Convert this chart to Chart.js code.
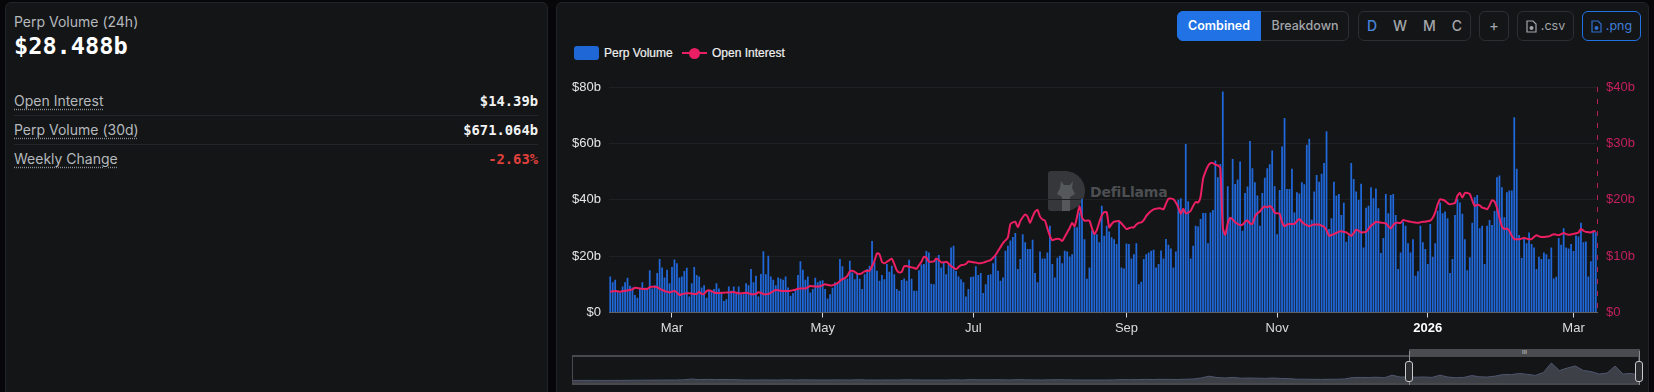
<!DOCTYPE html>
<html>
<head>
<meta charset="utf-8">
<title>Perp Volume</title>
<script src="https://cdn.jsdelivr.net/npm/chart.js@4/dist/chart.umd.min.js"></script>
<style>
html, body { margin: 0; padding: 0; width: 1654px; height: 392px; overflow: hidden; background: #070709; font-family: Inter, "Liberation Sans", sans-serif; }
.card { position: absolute; background: #131517; border: 1px solid #212326; border-radius: 6px; box-sizing: border-box; }
#left { left: 5px; top: 2px; width: 543px; height: 400px; }
#right { left: 556px; top: 2px; width: 1093px; height: 400px; }
.abs { position: absolute; white-space: nowrap; }
.mono { font-family: "DejaVu Sans Mono", "Liberation Mono", monospace; font-weight: 700; }
.stat-label { left: 14px; font-size: 14px; color: #b6b9bd; text-decoration: underline dotted #8a8d91; text-underline-offset: 3px; line-height: 18px; }
.stat-value { font-size: 13.8px; color: #f2f2f2; line-height: 18px; }
.divider { position: absolute; left: 14px; width: 524px; height: 1px; background: #232528; }
.btn { position: absolute; top: 11px; height: 30px; box-sizing: border-box; border: 1px solid #2c2e32; border-radius: 6px; font-size: 12.5px; line-height: 28px; color: #a3a6aa; display: flex; align-items: center; justify-content: center; gap: 4px; }
.legend { position: absolute; top: 46px; font: 12px "Liberation Sans", sans-serif; color: #f0f0f0; line-height: 14px; -webkit-text-stroke: 0.2px #f0f0f0; }
canvas { position: absolute; display: block; }
#brushFrame { position: absolute; left: 572px; top: 355px; width: 1067px; height: 30px; border: 2px solid #47494c; border-left-width: 1px; border-right-width: 1px; box-sizing: border-box; }
.handle { position: absolute; top: 361px; width: 6px; height: 19px; border: 1.5px solid #c8c9cb; border-radius: 3px; background: #2a2c2f; }
.handle-line { position: absolute; top: 351px; width: 1px; height: 34px; background: #8a8c90; }
</style>
</head>
<body>

<div class="card" id="left"></div>
<div class="card" id="right"></div>

<div class="abs" style="left:14px;top:13px;font-size:14px;color:#b6b9bd;line-height:18px">Perp Volume (24h)</div>
<div class="abs mono" style="left:14px;top:31px;font-size:23.6px;color:#fff;line-height:30px">$28.488b</div>

<div class="abs stat-label" style="top:92px">Open Interest</div>
<div class="abs stat-value mono" style="top:92px;right:1116px">$14.39b</div>
<div class="divider" style="top:115px"></div>
<div class="abs stat-label" style="top:121px">Perp Volume (30d)</div>
<div class="abs stat-value mono" style="top:121px;right:1116px">$671.064b</div>
<div class="divider" style="top:144px"></div>
<div class="abs stat-label" style="top:150px">Weekly Change</div>
<div class="abs stat-value mono" style="top:150px;right:1116px;color:#e0403c">-2.63%</div>

<!-- boutons -->
<div class="btn" style="left:1177px;width:172px"></div>
<div class="btn" style="left:1177px;width:84px;background:#2172e5;border-color:#2172e5;color:#fff;font-weight:600;border-radius:6px 0 0 6px">Combined</div>
<div class="btn" style="left:1261px;width:88px;border:none;font-weight:500">Breakdown</div>
<div class="btn" style="left:1358px;width:113px;justify-content:space-around;padding:0 2px;font-size:14px;font-weight:500"><span style="color:#4a84d8">D</span><span>W</span><span>M</span><span>C</span></div>
<div class="btn" style="left:1479px;width:30px;font-size:15px">+</div>
<div class="btn" style="left:1517px;width:57px"><svg width="11" height="13" viewBox="0 0 11 13"><path d="M1 1h6l3 3v8H1z" fill="none" stroke="#a3a6aa" stroke-width="1.2"/><circle cx="5.5" cy="8" r="2" fill="#a3a6aa"/></svg>.csv</div>
<div class="btn" style="left:1582px;width:59px;border-color:#2172e5;color:#3f7fd8"><svg width="11" height="13" viewBox="0 0 11 13"><path d="M1 1h6l3 3v8H1z" fill="none" stroke="#2f6fcf" stroke-width="1.2"/><circle cx="5.5" cy="8" r="2" fill="#2f6fcf"/></svg>.png</div>

<!-- légende -->
<div class="abs" style="left:574px;top:46px;width:25px;height:14px;background:#1f66d6;border-radius:3px"></div>
<div class="legend" id="legendBar" style="left:604px"></div>
<div class="abs" style="left:682px;top:52px;width:25px;height:2px;background:#e91e63"></div>
<div class="abs" style="left:689px;top:48px;width:11px;height:11px;border-radius:50%;background:#e91e63"></div>
<div class="legend" id="legendLine" style="left:712px"></div>

<!-- filigrane -->
<svg class="abs" style="left:1048px;top:171px" width="37" height="41" viewBox="0 0 37 41">
  <path d="M3 0h14c11 0 20 9 20 20s-9 20-20 20H3c-2 0-3-1-3-3V3c0-2 1-3 3-3z" fill="#35373a"/>
  <path d="M13 10l3 4h6l3-4-1 7 3 6-5 3v14H14V26l-5-3 3-6z" fill="#55585b"/>
</svg>
<div class="abs" style="left:1090px;top:182px;font:700 14px 'DejaVu Sans',sans-serif;color:#4c4e51;line-height:20px;letter-spacing:-0.2px">DefiLlama</div>

<canvas id="mainChart" width="1093" height="270" style="left:556px;top:70px"></canvas>

<canvas id="brushChart" width="1067" height="29" style="left:572px;top:356px"></canvas>
<div id="brushFrame"></div>
<div class="abs" style="left:1409px;top:349px;width:231px;height:7px;background:#4a4c4f;color:#cfcfcf;font:6px/7px 'Liberation Sans',sans-serif;text-align:center">III</div>
<div class="handle-line" style="left:1409px"></div>
<div class="handle-line" style="left:1639px"></div>
<div class="handle" style="left:1405px"></div>
<div class="handle" style="left:1635px"></div>

<script>
// ============================
// Dados
// ============================
const START_DATE = "2025-02-04";
const barName = "Perp Volume";
const lineName = "Open Interest";

// volume diário em $b
const perpVolume = [
  12.8,10.7,11.6,7.7,7,9.2,10.7,12.3,9.5,8.9,
  6.2,5.2,8.5,10.7,8.8,8.3,15,8.5,9.7,14,
  19,16,12.4,15.2,10.4,16.1,18.8,17.5,12.4,12.8,
  14.7,15.9,5.7,10.4,16.1,13.3,12.8,8.9,9.7,5.2,
  8,7.7,8.3,10.4,8.5,7.3,4.1,4.7,9.2,7.7,
  9.2,6.6,9.2,6.5,6.5,10.4,9.7,15.4,10.7,13,
  5.7,13.7,21.7,13.6,20.1,12.8,11.6,9.7,12.4,12,
  11.6,12.8,8.9,5.9,6.9,8.3,13.3,18.2,15.2,11.6,
  12.8,7.1,8.3,12.3,10.7,11.3,11.4,8.3,5,6.5,
  8.8,10.7,10.4,19,16.4,11.8,12,18.4,14.2,11.8,
  13.7,12,8.3,13.6,15.4,16.6,25.4,17.8,14.8,
  11.3,13.3,11.8,17.2,14.5,16.6,13.6,8.3,7.7,11.5,
  12.1,11.3,18.7,12,7.7,7.7,15,17,17.2,21.8,
  21.3,10.2,10,18.7,20.4,16,17.8,13.6,17,23.1,
  23.7,14.7,12.8,11.8,10.7,5.7,8.3,12.6,12.8,16.4,
  13.3,14,6.9,10,13.3,13.6,17.5,20.1,14.8,11.3,
  12.4,21.9,23.7,25.5,26.8,28.2,15.4,19,27.8,24.9,
  22.5,22.5,25.8,14,10.7,21.6,19.2,19.2,21.3,30.8,
  17.2,12.4,19.4,20.1,17.5,21.9,21.6,19.9,20.7,30.2,
  30.2,35.5,40.3,26,12,16,29,28.4,27.8,24.9,
  37.9,27.2,30.8,28.7,26.7,26,24.3,32.6,16,15.6,
  24.5,24.3,19.2,20.7,24.6,10,10.9,19,20.7,21.3,
  21.9,22.3,16,17.2,
  22,19.2,26.1,24,22.7,16,21.6,40,40.5,36,
  59.8,39.5,19.2,23.7,30.8,30.5,33.2,35.3,35.3,24.6,
  35.5,36.4,53.9,48,52.7,78.4,28.4,44.8,33.8,54.5,
  45.6,47.2,53.6,29,42.4,44.7,60.8,51.2,46.2,41.5,
  30.8,42.4,47.8,51.2,52.6,57.5,44.8,27.8,43.5,58.9,
  69,43.8,43.8,51,35.5,42.7,42.2,46.2,45.5,59.5,
  61.6,32.9,42.9,48.8,46.4,49.2,53,64.3,29.6,33.4,
  46.4,41.5,42,34.6,38.9,25.1,27.3,53,47.4,42.9,
  40,45.7,23.1,37.2,37.9,44.4,40.5,44,37,21.1,
  26.4,42,35.2,41.7,42,34.6,15.4,
  21.3,32.2,30.8,24.6,21.3,26,13,14.6,30.8,24.9,
  22.5,17.2,31.4,19.8,24.6,36.1,39,35.2,35.8,33.4,
  14,19,34.6,40.3,39,35,26,15,19.6,31.8,
  40.9,41.7,29.9,30.8,17.2,30.8,32.8,31,36,48,
  48.6,44.4,33.8,42.7,43.3,43.3,69.3,51,27.5,19.3,
  26.1,24.6,28.4,24.3,23.1,15.4,19.8,19,21.3,20.7,
  19,23.1,12.1,12.7,26.4,24,29.9,23.1,22.7,24.3,
  21.8,27.3,27,31.8,24.9,25.2,12.8,18.2,29,28.488
];

// open interest em $b (eixo direito)
const openInterest = [
  3.7,3.75,3.8,3.75,3.7,3.75,3.85,3.9,4.0,4.1,
  4.4,4.35,4.25,4.2,4.15,4.2,4.5,4.55,4.55,4.5,
  4.2,4.0,3.8,3.7,3.55,3.7,3.8,3.55,3.1,3.25,
  3.35,3.4,3.4,3.35,3.3,3.3,3.7,3.3,3.3,3.8,
  3.95,3.8,3.55,3.45,3.45,3.5,3.5,3.55,3.55,3.6,
  3.65,3.5,3.4,3.4,3.45,3.5,3.4,3.25,3.25,3.3,
  3.6,3.5,3.25,3.25,3.3,3.5,3.75,4.0,3.95,3.85,
  3.8,3.8,3.8,3.85,3.95,4.05,4.2,4.25,4.25,4.25,
  4.5,4.7,4.65,4.6,4.6,4.65,4.85,5.0,4.9,4.8,
  4.85,5.0,5.2,5.6,5.9,6.1,6.5,7.3,7.4,7.2,
  6.9,6.85,7.0,7.3,7.4,7.4,8.2,9.2,10.5,
  10.35,9.0,8.7,9.0,9.3,9.55,8.6,7.5,7.1,7.2,
  8.2,8.25,8.1,8.0,7.9,7.75,8.4,9.0,9.9,9.7,
  9.0,9.0,9.05,9.6,9.3,8.9,8.9,9.0,8.7,8.2,
  7.95,7.7,8.05,8.4,8.45,8.6,9.05,9.0,8.9,8.85,
  8.75,8.75,8.85,9.0,9.15,9.3,9.7,10.2,10.9,11.6,
  12.3,12.8,13.3,15.7,16.0,16.1,15.1,16.2,16.9,17.4,
  17.0,15.9,17.0,17.9,18.2,17.0,16.5,16.3,14.9,13.6,
  12.8,13.0,13.1,13.0,12.7,13.4,14.2,15.0,15.9,15.3,
  17.0,18.9,16.9,16.3,16.3,16.3,15.0,13.9,14.6,16.0,
  17.2,17.8,17.8,15.1,15.7,16.1,16.2,16.2,15.8,15.3,
  14.8,14.95,15.1,15.1,15.6,15.9,16.0,16.4,17.1,17.6,
  18.0,18.3,18.4,18.5,
  18.45,18.3,19.3,20.2,20.2,20.1,19.5,18.6,17.5,18.4,
  17.6,17.7,18.05,18.9,19.6,19.5,20.5,23.7,25.0,26.0,
  26.5,26.5,26.2,26.1,25.6,15.0,13.8,15.8,16.8,16.5,
  16.0,15.7,15.5,15.6,16.1,16.3,15.8,15.7,17.0,17.6,
  17.9,18.5,18.8,18.65,18.9,18.5,17.7,17.6,17.5,16.0,
  15.3,15.6,15.7,15.7,15.7,16.2,16.6,16.1,15.7,15.5,
  15.3,15.5,15.6,15.6,15.6,15.4,15.2,14.6,13.6,13.75,
  13.9,14.1,14.35,14.4,14.3,14.2,13.9,13.6,14.1,14.7,
  14.5,14.2,14.25,14.3,14.85,15.4,15.7,16.1,16.0,15.95,
  15.9,15.8,15.3,14.9,15.5,15.9,15.9,
  15.9,16.4,16.3,16.2,16.1,16.0,15.95,15.9,16.0,16.1,
  16.1,16.2,16.3,16.8,17.75,19.2,20.1,20.0,19.8,19.4,
  19.2,19.3,19.4,20.7,21.2,20.4,21.2,21.2,21.0,19.9,
  18.9,19.1,19.0,18.6,18.5,18.3,19.0,19.9,19.7,18.6,
  16.8,15.3,14.8,14.9,14.5,13.6,13.0,13.0,13.0,13.1,
  13.25,13.1,13.0,13.0,13.4,13.7,13.5,13.4,13.4,13.45,
  13.5,13.7,13.9,13.8,13.7,13.9,14.1,13.9,13.8,13.85,
  13.95,14.05,14.2,14.8,14.5,14.3,14.25,14.2,14.4,14.39
];

// marcas do eixo x
const xTickDates = ["2025-03-01","2025-05-01","2025-07-01","2025-09-01","2025-11-01","2026-01-01","2026-03-01"];
const xTickLabels = ["Mar","May","Jul","Sep","Nov","2026","Mar"];

// eixos y
const volumeTicksMax = 80;
const oiTicksMax = 40;

// histórico completo no slider (altura relativa)
const brushLevels = [
  4.6,4.6,4.6,4.6,4.6,4.6,4.6,4.7,4.8,4.8,4.9,5,5,5,5.2,6,
  5.4,5.6,5.4,5.5,5.4,5.2,5,5,5.1,5,5,5.2,5,5.2,5.1,5,5,5.1,5.1,5,5.3,5,5,5,5.1,5,5.3,5.1,5,5,5,
  5,5.2,5,5.4,5.2,5.2,5.3,5.2,5.1,5.4,5.2,5.1,5,5.2,5.3,5.2,5.1,5,5,5,5,5.1,5.4,5.3,5.4,5.6,5.5,5.7,5.6,5.5,5.8,6,7,8.8,7.5,7,7.6,6.8,7,6.8,6.6,7,6.6,6.4,
  5.8,5.8,5.7,5.6,5.7,5.8,6,7.4,7.6,7.4,7.8,7.2,9.8,8,
  8,7.8,8,7.6,9.8,8,7.2,7.6,9.4,8.2,8,9,10.6,10.4,11.6,10.6,9.6,12.6,22,14.4,17,19,14.6,13.4,11,12,19,11,11.6,10
];

// ============================
// Categorias (um dia por barra)
// ============================
const days = perpVolume.map((_, i) => {
    const d = new Date(START_DATE + "T00:00:00Z");
    d.setUTCDate(d.getUTCDate() + i);
    return d.toISOString().slice(0, 10);
});

function formatBillions(v) {
    return v === 0 ? "$0" : `$${v}b`;
}

// linha tracejada do eixo direito
const dashedRightAxis = {
    id: "dashedRightAxis",
    afterDatasetsDraw(chart) {
        const { ctx, chartArea, scales } = chart;
        ctx.save();
        ctx.strokeStyle = "#b81e55";
        ctx.lineWidth = 1;
        ctx.setLineDash([5, 7]);
        ctx.beginPath();
        ctx.moveTo(scales.y2.left + 0.5, chartArea.top);
        ctx.lineTo(scales.y2.left + 0.5, chartArea.bottom);
        ctx.stroke();
        ctx.restore();
    }
};

const mainChart = new Chart(document.getElementById("mainChart"), {
    type: "bar",
    plugins: [dashedRightAxis],
    data: {
        labels: days,
        datasets: [
            {
                type: "line",
                label: lineName,
                data: openInterest,
                yAxisID: "y2",
                borderColor: "#ec1f62",
                borderWidth: 2,
                pointRadius: 0,
                tension: 0.2,
                order: 0
            },
            {
                type: "bar",
                label: barName,
                data: perpVolume,
                yAxisID: "y",
                backgroundColor: "#2067d8",
                barPercentage: 0.72,
                categoryPercentage: 1,
                order: 1
            }
        ]
    },
    options: {
        responsive: false,
        animation: false,
        layout: { padding: { top: 17 } },
        plugins: { legend: { display: false }, tooltip: { enabled: false } },
        scales: {
            x: {
                afterBuildTicks: axis => { axis.ticks = xTickDates.map(d => ({ value: days.indexOf(d) })); },
                afterFit: axis => { axis.height = 27.5; },
                grid: { drawOnChartArea: false, offset: false, tickColor: "#d8d8d8", tickLength: 5 },
                border: { color: "#5f6166" },
                ticks: {
                    autoSkip: false,
                    maxRotation: 0,
                    padding: 3,
                    color: ctx => (xTickLabels[xTickDates.indexOf(days[ctx.tick.value])] === "2026" ? "#ffffff" : "#dcdcdc"),
                    font: ctx => ({
                        family: "'Liberation Sans', sans-serif",
                        size: 13,
                        weight: xTickLabels[xTickDates.indexOf(days[ctx.tick.value])] === "2026" ? "bold" : "normal"
                    }),
                    callback: value => xTickLabels[xTickDates.indexOf(days[value])]
                }
            },
            y: {
                position: "left",
                min: 0,
                max: volumeTicksMax,
                afterFit: axis => { axis.width = 53; },
                grid: { color: "#1e2023", drawTicks: false },
                border: { display: false },
                ticks: {
                    stepSize: 20,
                    padding: 8,
                    color: "#e6e6e6",
                    font: { family: "'Liberation Sans', sans-serif", size: 13 },
                    callback: formatBillions
                }
            },
            y2: {
                position: "right",
                min: 0,
                max: oiTicksMax,
                afterFit: axis => { axis.width = 52; },
                grid: { display: false, drawTicks: false },
                border: { display: false },
                ticks: {
                    stepSize: 10,
                    padding: 9,
                    color: "#c4205c",
                    font: { family: "'Liberation Sans', sans-serif", size: 13 },
                    callback: formatBillions
                }
            }
        }
    }
});

document.getElementById("legendBar").textContent = barName;
document.getElementById("legendLine").textContent = lineName;

// ============================
// Slider inferior
// ============================
new Chart(document.getElementById("brushChart"), {
    type: "line",
    data: {
        labels: brushLevels.map((_, i) => i),
        datasets: [{
            data: brushLevels,
            borderColor: "#4f5670",
            borderWidth: 1,
            backgroundColor: "#3d4046",
            fill: true,
            pointRadius: 0,
            tension: 0
        }]
    },
    options: {
        responsive: false,
        animation: false,
        plugins: { legend: { display: false }, tooltip: { enabled: false } },
        scales: {
            x: { display: false },
            y: { display: false, min: 0, max: 29 }
        }
    }
});
</script>
</body>
</html>
